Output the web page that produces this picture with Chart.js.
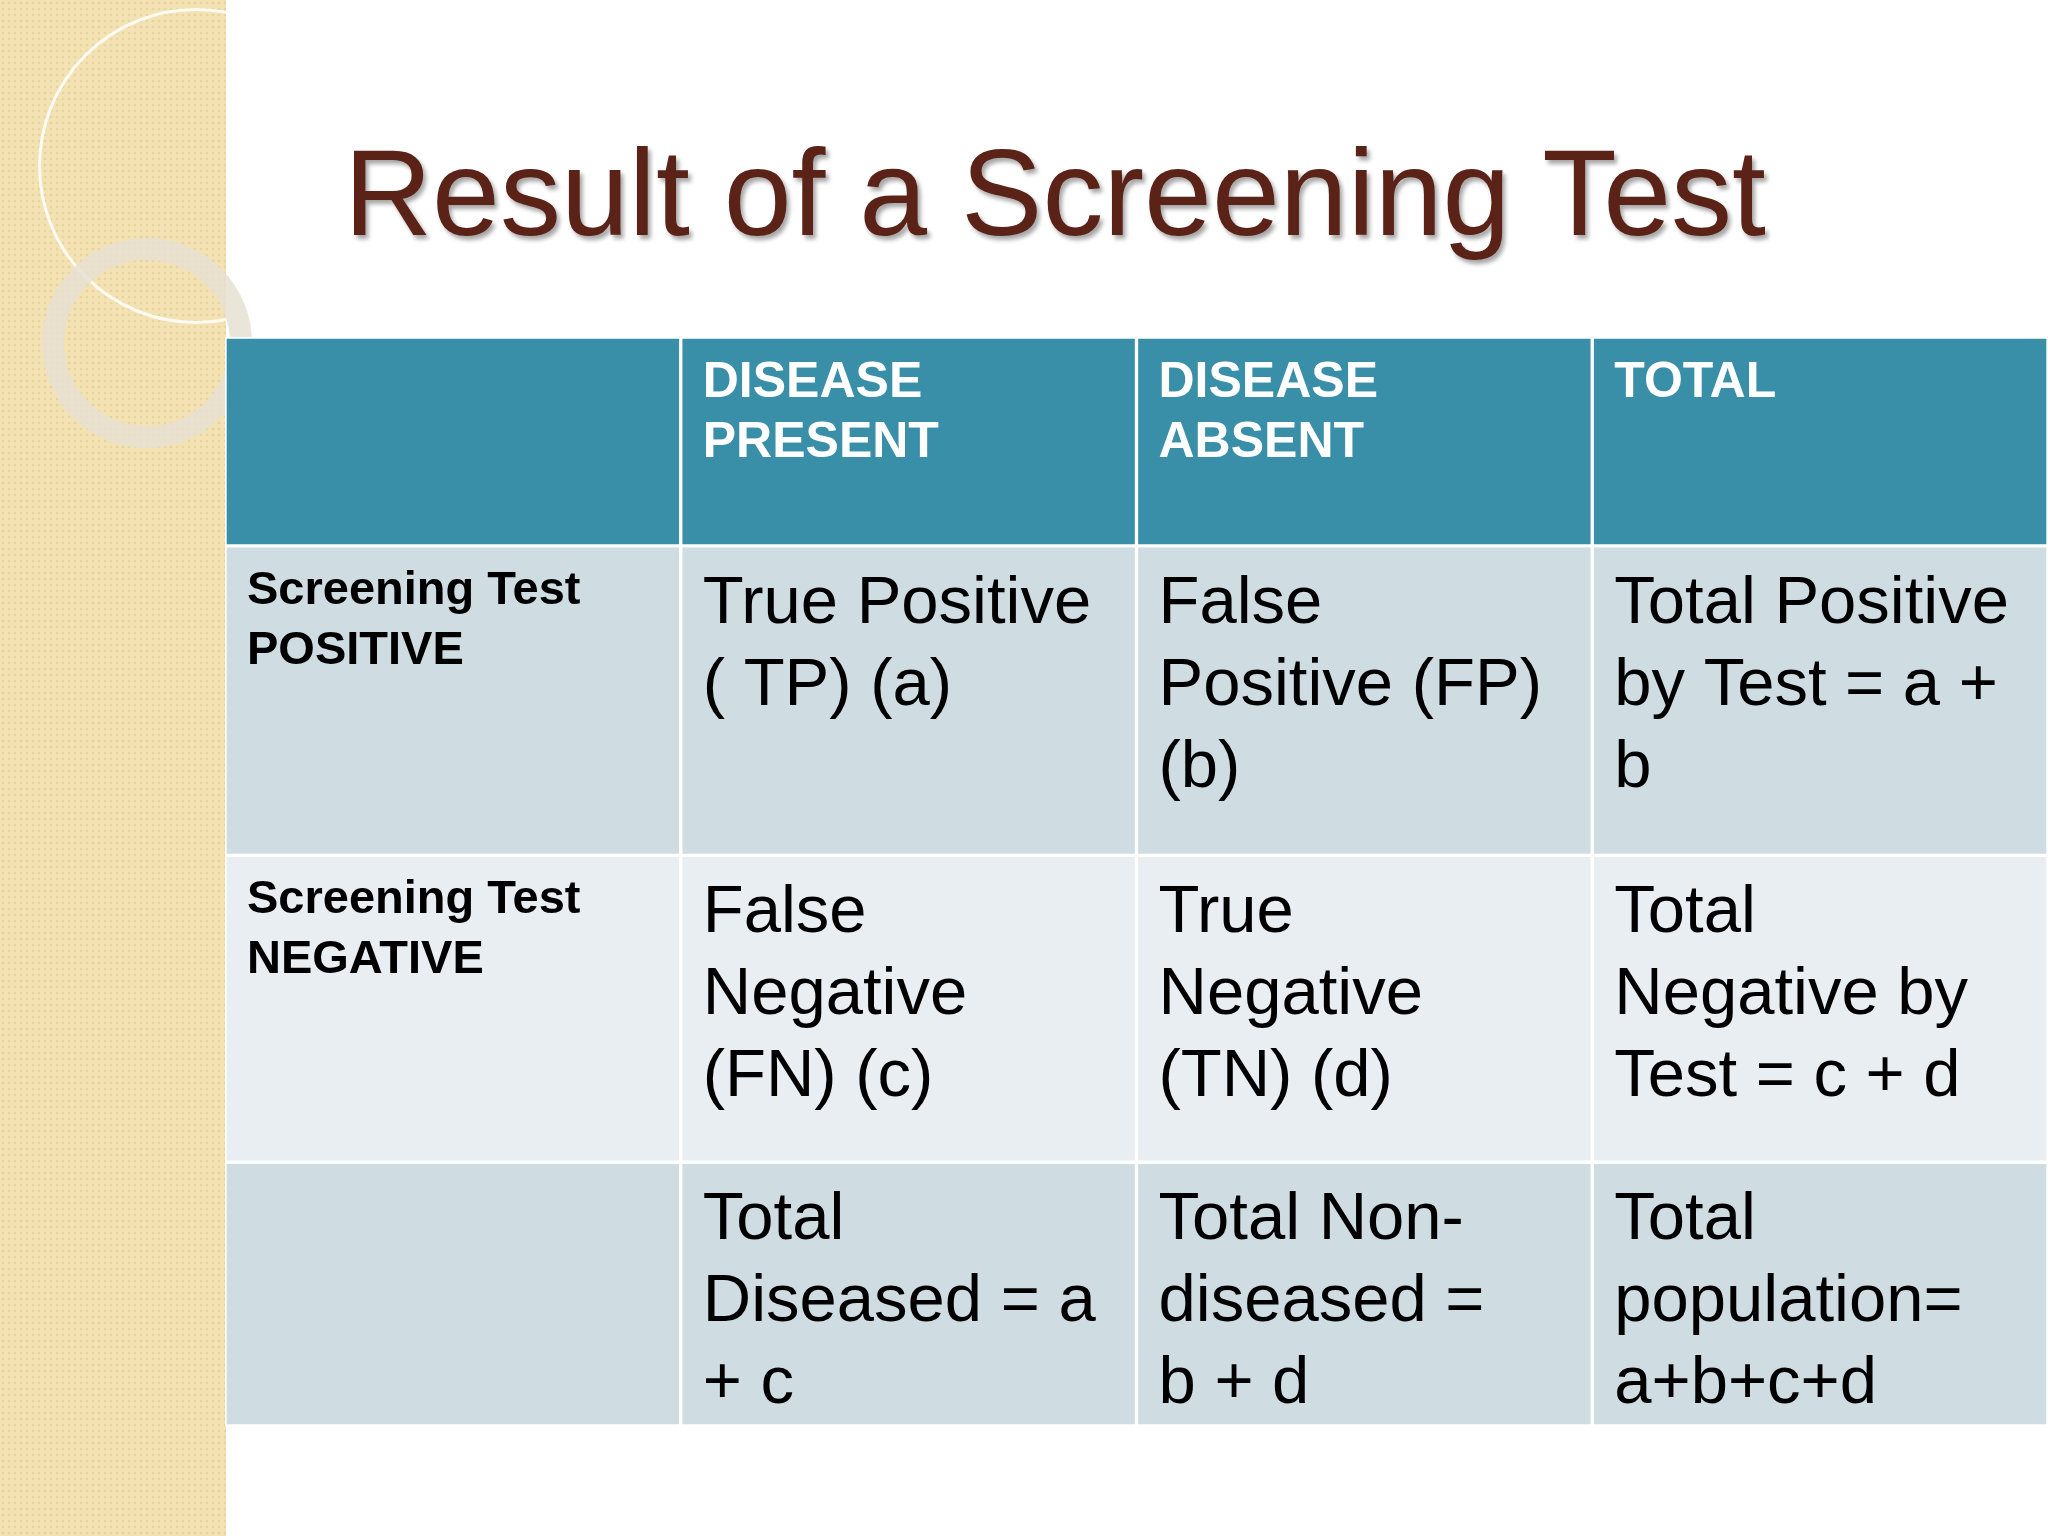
<!DOCTYPE html>
<html><head><meta charset="utf-8">
<script src="https://cdn.jsdelivr.net/npm/chart.js@4"></script>
<style>
html,body{margin:0;padding:0;width:2048px;height:1536px;background:#fff;overflow:hidden;font-family:"Liberation Sans",Arial,sans-serif}
#strip{position:absolute;left:0;top:0;width:226px;height:1536px;background:#f3e2b3;
background-image:radial-gradient(#e9d49c 1.5px,transparent 1.6px);background-size:6px 6px}
.ring{position:absolute;border-radius:50%}
#title{position:absolute;left:344px;top:132px;font-size:122px;color:#5b2217;white-space:nowrap;text-shadow:3px 4px 4px rgba(0,0,0,0.35);line-height:1}
#wrap{position:absolute;left:225px;top:337px;width:1823px;height:1089px}
</style></head><body>
<div id="strip"></div>
<div class="ring" style="left:38px;top:8px;width:310px;height:310px;border:3px solid rgba(255,255,255,0.85)"></div>
<div class="ring" style="left:42px;top:238px;width:210px;height:210px;border:22px solid rgba(230,225,210,0.85);box-sizing:border-box"></div>
<div id="title">Result of a Screening Test</div>
<div id="wrap"><canvas id="c" width="1823" height="1089"></canvas></div>
<script>
const columns = ["", "DISEASE PRESENT", "DISEASE ABSENT", "TOTAL"];
const rowBounds = [0, 160, 397, 632, 834];
const rowColors = ["#3a8fa8", "#cfdde3", "#e9eef2", "#cfdde3"];
const headerLines = [[], ["DISEASE", "PRESENT"], ["DISEASE", "ABSENT"], ["TOTAL"]];
const rowLabels = [["Screening Test", "POSITIVE"], ["Screening Test", "NEGATIVE"], []];
const cellLines = [
  [["True Positive", "( TP) (a)"], ["False", "Positive (FP)", "(b)"], ["Total Positive", "by Test = a +", "b"]],
  [["False", "Negative", "(FN) (c)"], ["True", "Negative", "(TN) (d)"], ["Total", "Negative by", "Test = c + d"]],
  [["Total", "Diseased = a", "+ c"], ["Total Non-", "diseased =", "b + d"], ["Total", "population=", "a+b+c+d"]]
];

const datasets = rowColors.map((col, r) => ({
  data: columns.map(() => [rowBounds[r], rowBounds[r + 1]]),
  backgroundColor: col,
  borderColor: "#ffffff",
  borderWidth: 2,
  borderSkipped: false,
  barPercentage: 1,
  categoryPercentage: 1
}));

const textPlugin = {
  id: "cellText",
  afterDatasetsDraw(chart) {
    const ctx = chart.ctx, xs = chart.scales.x, ys = chart.scales.y;
    const colW = xs.getPixelForValue(1) - xs.getPixelForValue(0);
    const left = i => xs.getPixelForValue(i) - colW / 2 + 22;
    ctx.save();
    ctx.textBaseline = "alphabetic";
    ctx.fillStyle = "#ffffff";
    ctx.font = "bold 50px 'Liberation Sans', Arial, sans-serif";
    headerLines.forEach((lines, c) => lines.forEach((t, k) =>
      ctx.fillText(t, left(c), ys.getPixelForValue(rowBounds[0]) + 60 + k * 60)));
    ctx.fillStyle = "#000000";
    ctx.font = "bold 47px 'Liberation Sans', Arial, sans-serif";
    rowLabels.forEach((lines, r) => lines.forEach((t, k) =>
      ctx.fillText(t, left(0), ys.getPixelForValue(rowBounds[r + 1]) + 58 + k * 60)));
    ctx.font = "67px 'Liberation Sans', Arial, sans-serif";
    cellLines.forEach((row, r) => row.forEach((lines, c) => lines.forEach((t, k) =>
      ctx.fillText(t, left(c + 1), ys.getPixelForValue(rowBounds[r + 1]) + 77 + k * 82))));
    ctx.restore();
  }
};

new Chart(document.getElementById("c"), {
  type: "bar",
  data: { labels: columns, datasets },
  options: {
    responsive: false, animation: false,
    layout: { padding: 0 },
    plugins: { legend: { display: false }, tooltip: { enabled: false } },
    scales: {
      x: { display: false, offset: true, stacked: true },
      y: { display: false, min: 0, max: 834, reverse: true, stacked: false }
    }
  },
  plugins: [textPlugin]
});
</script>
</body></html>
